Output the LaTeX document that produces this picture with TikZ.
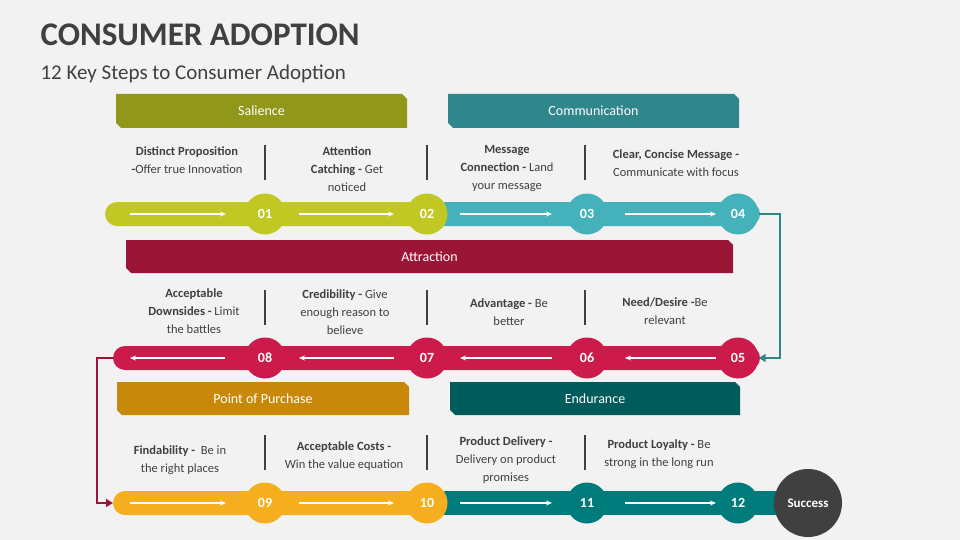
\documentclass[tikz,border=0pt]{standalone}
\usepackage{fontspec}
\setmainfont{Carlito}
\usetikzlibrary{arrows.meta}
\definecolor{bg}{HTML}{F2F2F2}
\definecolor{txt}{HTML}{404040}
\definecolor{olive}{HTML}{91971A}
\definecolor{lime}{HTML}{C1C823}
\definecolor{tealA}{HTML}{2F868B}
\definecolor{tealL}{HTML}{45B2BB}
\definecolor{wine}{HTML}{9B1537}
\definecolor{crim}{HTML}{CC1A4A}
\definecolor{gold}{HTML}{C8890A}
\definecolor{orng}{HTML}{F5AF1E}
\definecolor{tealD}{HTML}{005C5C}
\definecolor{tealM}{HTML}{007B7B}
\tikzset{
  banner/.style={font=\fontsize{14}{16}\selectfont, text=white},
  num/.style={circle, minimum size=41pt, inner sep=0pt, text=white, font=\bfseries\fontsize{14}{16}\selectfont},
  desc/.style={align=center, text=txt, font=\fontsize{12.5}{18}\selectfont},
  sep/.style={txt, line width=1.6pt},
  inarr/.style={white, line width=1.2pt, -{Stealth[length=6pt,width=5pt]}},
  link/.style={line width=2pt, -{Triangle[length=7pt,width=8pt]}}
}
\newcommand{\bannerbox}[6]{% x1 y1 x2 y2 color text
  \fill[#5] (#1,#2) -- (#3-5,#2) -- (#3,#2+5) -- (#3,#4) -- (#1+5,#4) -- (#1,#4-5) -- cycle;
  \node[banner] (#6) at ({(#1+#3)/2},{(#2+#4)/2}) {#6};}
\begin{document}
\begin{tikzpicture}[x=1pt,y=-1pt]
\fill[bg] (0,0) rectangle (960,540);
\useasboundingbox (0,0) rectangle (960,540);
\node[anchor=west, text=txt, font=\bfseries\fontsize{33}{36}\selectfont] (title) at (37,35) {CONSUMER ADOPTION};
\node[anchor=west, text=txt, font=\fontsize{21}{24}\selectfont] (sub) at (37,74) {12 Key Steps to Consumer Adoption};
% banners
\bannerbox{116}{94}{407}{128}{olive}{Salience}
\bannerbox{448}{94}{739}{128}{tealA}{Communication}
\bannerbox{126}{240}{733}{273}{wine}{Attraction}
\bannerbox{117}{382}{409}{415}{gold}{Point of Purchase}
\bannerbox{450}{382}{740}{415}{tealD}{Endurance}
% bars
\fill[lime, rounded corners=12pt] (105,202) rectangle (450,226);
\fill[lime] (420,202) rectangle (440,226);
\fill[tealL, rounded corners=12pt] (430,202) rectangle (760,226);
\fill[tealL] (440,202) rectangle (460,226);
\fill[crim, rounded corners=12pt] (113,346) rectangle (760,370);
\fill[orng, rounded corners=12pt] (113,491) rectangle (450,515);
\fill[tealM] (440,491) rectangle (800,515);
\fill[orng] (420,491) rectangle (440,515);
% circles row1
\node[num, fill=lime] (c01) at (265,214) {01};
\node[num, fill=lime] (c02) at (427,214) {02};
\node[num, fill=tealL] (c03) at (587,214) {03};
\node[num, fill=tealL] (c04) at (738,214) {04};
\node[num, fill=crim] (c05) at (738,358) {05};
\node[num, fill=crim] (c06) at (587,358) {06};
\node[num, fill=crim] (c07) at (427,358) {07};
\node[num, fill=crim] (c08) at (265,358) {08};
\node[num, fill=orng] (c09) at (265,503) {09};
\node[num, fill=orng] (c10) at (427,503) {10};
\node[num, fill=tealM] (c11) at (587,503) {11};
\node[num, fill=tealM] (c12) at (738,503) {12};
\node[circle, minimum size=68pt, inner sep=0pt, fill=txt, text=white, font=\bfseries\fontsize{13}{15}\selectfont] (succ) at (808,503) {Success};
% inner arrows
\coordinate (a1) at (130,214); \coordinate (b1) at (226,214);
\coordinate (a2) at (299,214); \coordinate (b2) at (394,214);
\coordinate (a3) at (460,214); \coordinate (b3) at (552,214);
\coordinate (a4) at (625,214); \coordinate (b4) at (716,214);
\draw[inarr] (a1) -- (b1); \draw[inarr] (a2) -- (b2); \draw[inarr] (a3) -- (b3); \draw[inarr] (a4) -- (b4);
\coordinate (d1) at (225,358); \coordinate (e1) at (130,358);
\coordinate (d2) at (394,358); \coordinate (e2) at (299,358);
\coordinate (d3) at (552,358); \coordinate (e3) at (460,358);
\coordinate (d4) at (716,358); \coordinate (e4) at (625,358);
\draw[inarr] (d1) -- (e1); \draw[inarr] (d2) -- (e2); \draw[inarr] (d3) -- (e3); \draw[inarr] (d4) -- (e4);
\coordinate (f1) at (130,503); \coordinate (g1) at (226,503);
\coordinate (f2) at (299,503); \coordinate (g2) at (394,503);
\coordinate (f3) at (460,503); \coordinate (g3) at (552,503);
\coordinate (f4) at (625,503); \coordinate (g4) at (716,503);
\draw[inarr] (f1) -- (g1); \draw[inarr] (f2) -- (g2); \draw[inarr] (f3) -- (g3); \draw[inarr] (f4) -- (g4);
% links
\draw[link, tealA] (c04.east) -- (780,214) -- (780,358) -- (c05.east);
\coordinate (r2l) at (113,358); \coordinate (r3l) at (113,503);
\draw[link, wine] (r2l) -- (97,358) -- (97,503) -- (r3l);
% separators
\foreach \x/\n in {265/s1,427/s2,585/s3}{
  \draw[sep] (\x,145) -- (\x,180);
  \draw[sep] (\x,290) -- (\x,325);
  \draw[sep] (\x,435) -- (\x,470);
}
% descriptions
\node[desc] (t1) at (187,160) {\textbf{Distinct Proposition}\\\textbf{-}Offer true Innovation};
\node[desc] (t2) at (347,169) {\textbf{Attention}\\\textbf{Catching -} Get\\noticed};
\node[desc] (t3) at (507,169) {\textbf{Message}\\\textbf{Connection -} Land\\your message};
\node[desc] (t4) at (676,163) {\textbf{Clear, Concise Message -}\\Communicate with focus};
\node[desc] (t5) at (194,311) {\textbf{Acceptable}\\\textbf{Downsides -} Limit\\the battles};
\node[desc] (t6) at (345,312) {\textbf{Credibility -} Give\\enough reason to\\believe};
\node[desc] (t7) at (509,312) {\textbf{Advantage -} Be\\better};
\node[desc] (t8) at (665,311) {\textbf{Need/Desire -}Be\\relevant};
\node[desc] (t9) at (180,460) {\textbf{Findability -}\ \ Be in\\the right places};
\node[desc] (t10) at (344,456) {\textbf{Acceptable Costs -}\\Win the value equation};
\node[desc] (t11) at (506,460) {\textbf{Product Delivery -}\\Delivery on product\\promises};
\node[desc] (t12) at (659,454) {\textbf{Product Loyalty -} Be\\strong in the long run};
\end{tikzpicture}
\end{document}
